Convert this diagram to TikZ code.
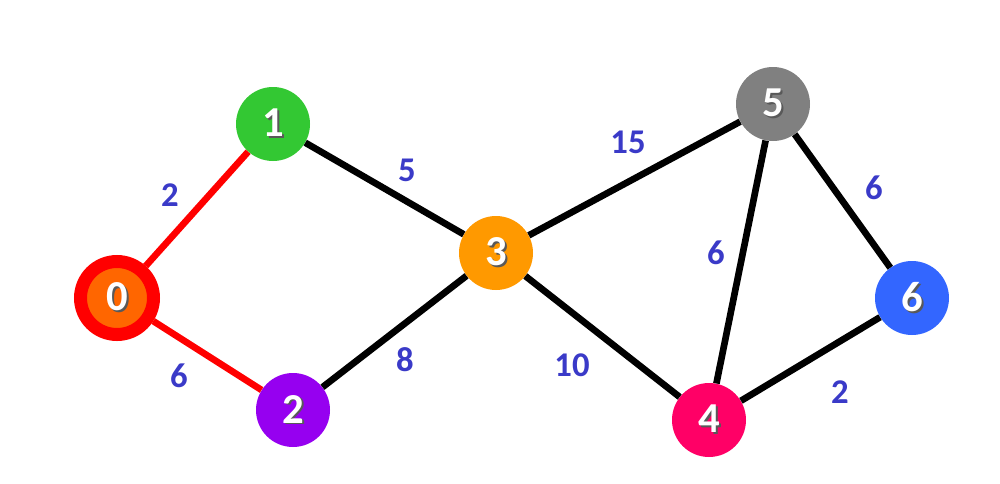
\documentclass[tikz,border=0pt]{standalone}
\usepackage{fontspec}
\setmainfont{Carlito}
\newcommand\shtxt[1]{\makebox[0pt][l]{\hspace{1.4pt}\raisebox{-1.4pt}{\color{black!65}#1}}\color{white}#1}
\definecolor{cgreen}{RGB}{51,200,51}
\definecolor{cpurple}{RGB}{150,0,240}
\definecolor{corange}{RGB}{255,153,0}
\definecolor{cpink}{RGB}{255,0,102}
\definecolor{cgray}{RGB}{128,128,128}
\definecolor{cblue}{RGB}{51,102,255}
\definecolor{czero}{RGB}{255,102,0}
\definecolor{cred}{RGB}{255,0,0}
\definecolor{clab}{RGB}{58,58,200}
\begin{document}
\begin{tikzpicture}[x=0.75pt,y=-0.75pt,
  vtx/.style={circle,minimum size=55.5pt,inner sep=0pt,font=\fontsize{32}{32}\selectfont\bfseries},
  edg/.style={line width=5pt,black},
  redg/.style={line width=5pt,cred},
  wlab/.style={font=\fontsize{26}{26}\selectfont\bfseries,text=clab}]
\fill[white] (0,0) rectangle (1000,483);
\node[vtx,fill=czero,draw=cred,line width=9.75pt,minimum size=54.75pt] (n0) at (117,298) {\shtxt{0}};
\node[vtx,fill=cgreen] (n1) at (273,124) {\shtxt{1}};
\node[vtx,fill=cpurple] (n2) at (293,410) {\shtxt{2}};
\node[vtx,fill=corange] (n3) at (496,253) {\shtxt{3}};
\node[vtx,fill=cpink] (n4) at (709,420) {\shtxt{4}};
\node[vtx,fill=cgray] (n5) at (773,104) {\shtxt{5}};
\node[vtx,fill=cblue] (n6) at (912,298) {\shtxt{6}};
\draw[redg] (n0) -- (n1);
\draw[redg] (n0) -- (n2);
\draw[edg] (n1) -- (n3);
\draw[edg] (n2) -- (n3);
\draw[edg] (n3) -- (n5);
\draw[edg] (n3) -- (n4);
\draw[edg] (n5) -- (n4);
\draw[edg] (n5) -- (n6);
\draw[edg] (n4) -- (n6);
\node[wlab] (l01) at (170,195) {2};
\node[wlab] (l02) at (179,376) {6};
\node[wlab] (l13) at (407,170) {5};
\node[wlab] (l23) at (405,360) {8};
\node[wlab] (l35) at (628,142) {15};
\node[wlab] (l34) at (572,365) {10};
\node[wlab] (l45) at (716,253) {6};
\node[wlab] (l56) at (874,188) {6};
\node[wlab] (l46) at (840,392) {2};
\end{tikzpicture}
\end{document}
